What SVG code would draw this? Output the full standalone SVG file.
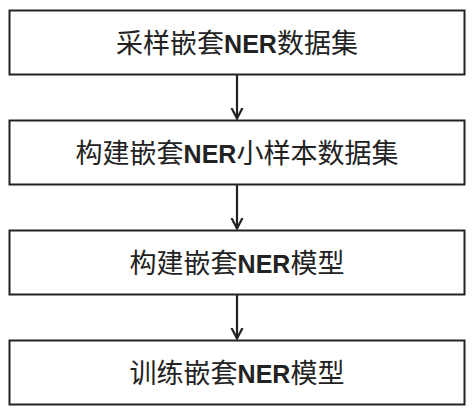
<svg xmlns="http://www.w3.org/2000/svg" width="474" height="415" viewBox="0 0 474 415">
<style>
.box{fill:#fff;stroke:#222;stroke-width:2}
.t{font-family:"Liberation Sans","Noto Sans CJK SC",sans-serif;font-size:27px;fill:#222;text-anchor:middle;dominant-baseline:central}
.b{font-weight:bold;font-size:25px}
.c{stroke:#222;stroke-width:2.2;fill:none}
</style>
<defs>
<marker id="ah" markerWidth="14" markerHeight="14" refX="11.5" refY="7" orient="auto" markerUnits="userSpaceOnUse">
<path d="M0.5,1.5 L11,7 L0.5,12.5" fill="none" stroke="#222" stroke-width="2.2"/>
</marker>
</defs>
<rect width="474" height="415" fill="#fff"/>
<g id="n1"><rect class="box" x="9.5" y="10.5" width="455" height="64"/><text class="t" x="237" y="44">采样嵌套<tspan class="b">NER</tspan>数据集</text></g>
<g id="n2"><rect class="box" x="9.5" y="120.5" width="455" height="64"/><text class="t" x="237" y="154">构建嵌套<tspan class="b">NER</tspan>小样本数据集</text></g>
<g id="n3"><rect class="box" x="9.5" y="230.5" width="455" height="64"/><text class="t" x="237" y="264">构建嵌套<tspan class="b">NER</tspan>模型</text></g>
<g id="n4"><rect class="box" x="9.5" y="340.5" width="455" height="64"/><text class="t" x="237" y="374">训练嵌套<tspan class="b">NER</tspan>模型</text></g>
<g id="connectors">
<line class="c" x1="237" y1="75" x2="237" y2="119" marker-end="url(#ah)"/>
<line class="c" x1="237" y1="185" x2="237" y2="229" marker-end="url(#ah)"/>
<line class="c" x1="237" y1="295" x2="237" y2="339" marker-end="url(#ah)"/>
</g>
</svg>
